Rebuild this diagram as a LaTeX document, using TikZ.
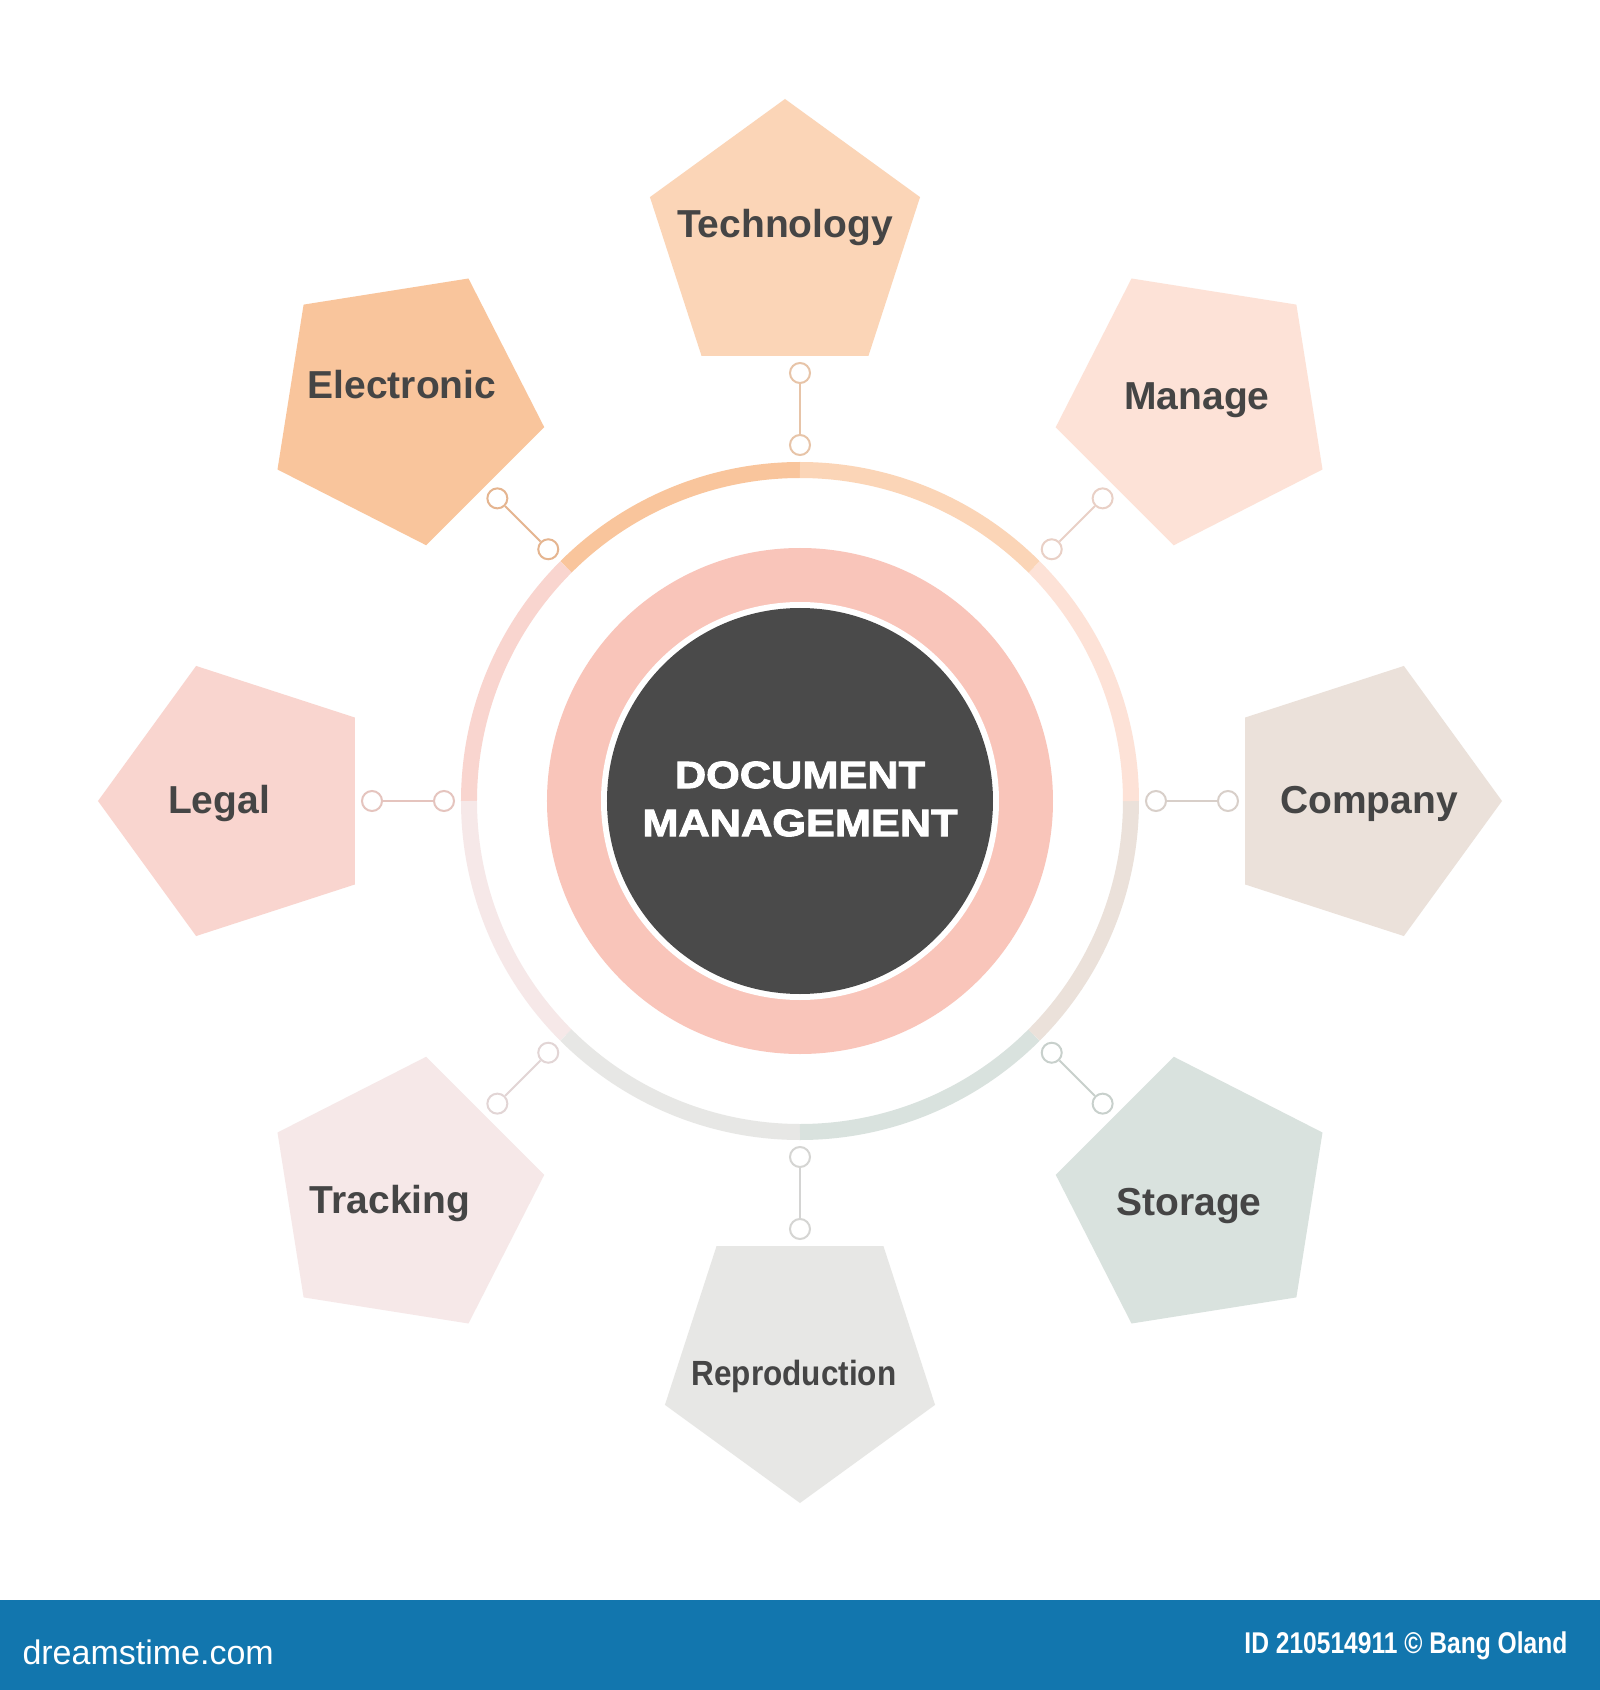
\documentclass[tikz,border=0pt]{standalone}
\usepackage{fontspec}
\setmainfont{Liberation Sans}
\newfontfamily\widefont{Liberation Sans}[FakeStretch=1.14, FakeBold=2.5]
\newfontfamily\narrowfont{Liberation Sans}[FakeStretch=0.82]
\newfontfamily\reprfont{Liberation Sans}[FakeStretch=0.9]
\usetikzlibrary{shapes.geometric}

\definecolor{techcol}{HTML}{FBD5B7}
\definecolor{eleccol}{HTML}{F9C59C}
\definecolor{manacol}{HTML}{FDE2D7}
\definecolor{compcol}{HTML}{EBE1DA}
\definecolor{storcol}{HTML}{D9E2DE}
\definecolor{reprcol}{HTML}{E7E7E5}
\definecolor{traccol}{HTML}{F6E8E8}
\definecolor{legacol}{HTML}{F9D5CF}
\definecolor{ringpink}{HTML}{F9C5BA}
\definecolor{hubgray}{HTML}{4A4A4A}
\definecolor{wordgray}{HTML}{454545}
\definecolor{barblue}{HTML}{1276AE}

\tikzset{
  penta/.style={regular polygon, regular polygon sides=5, minimum size=284pt, inner sep=0pt},
  word/.style={anchor=base, text=wordgray, font=\bfseries\fontsize{39}{44}\selectfont},
  dot/.style={circle, line width=2pt, minimum size=20pt, inner sep=0pt, fill=white},
}

\begin{document}
\begin{tikzpicture}[x=1pt, y=1pt]

\fill[white] (-800,-889) rectangle (800,801);
\useasboundingbox (-800,-889) rectangle (800,801);

% outer ring, one arc per item
\foreach \a/\c in {90/eleccol, 135/legacol, 180/traccol, 225/reprcol, 270/storcol, 315/compcol, 0/manacol, 45/techcol}
	\draw[line width=16pt, \c] (\a:331) arc[start angle=\a, end angle=\a+45, radius=331];

% hub
\fill[ringpink] (0,0) circle[radius=253];
\fill[white] (0,0) circle[radius=199];
\node[circle, fill=hubgray, minimum size=386pt, inner sep=0pt] (hub) at (0,0) {};
\node[align=center, text=white, font=\widefont\bfseries\fontsize{38}{48}\selectfont] (title) at (0,2) {DOCUMENT\\MANAGEMENT};

% pentagons
\node[penta, fill=techcol, shape border rotate=0] (tech) at (-15,560) {};
\node[penta, fill=eleccol, shape border rotate=45] (elec) at (135:560) {};
\node[penta, fill=manacol, shape border rotate=-45] (mana) at (45:560) {};
\node[penta, fill=compcol, shape border rotate=-90] (comp) at (0:560) {};
\node[penta, fill=storcol, shape border rotate=-135] (stor) at (-45:560) {};
\node[penta, fill=reprcol, shape border rotate=180] (repr) at (-90:560) {};
\node[penta, fill=traccol, shape border rotate=135] (trac) at (-135:560) {};
\node[penta, fill=legacol, shape border rotate=90] (lega) at (180:560) {};

\node[word] (tech-t) at (-15,563) {Technology};
\node[word] (elec-t) at (-398,402) {Electronic};
\node[word] (mana-t) at (397,391) {Manage};
\node[word] (comp-t) at (569,-12) {Company};
\node[word] (lega-t) at (-581,-12) {Legal};
\node[word] (trac-t) at (-410,-412) {Tracking};
\node[word] (stor-t) at (389,-414) {Storage};
\node[word, font=\reprfont\bfseries\fontsize{35}{40}\selectfont] (repr-t) at (-6,-584) {Reproduction};

% connectors
\foreach \n/\a in {tech/90, elec/135, mana/45, comp/0, stor/-45, repr/-90, trac/-135, lega/180} {
	\node[dot, draw=\n col!92!black] (\n-in) at (\a:356) {};
	\node[dot, draw=\n col!92!black] (\n-out) at (\a:428) {};
	\draw[line width=2pt, \n col!92!black] (\n-in) -- (\n-out);
}

% stock bar
\fill[barblue] (-800,-889) rectangle (800,-799);
\node[anchor=base west, text=white, font=\fontsize{34}{40}\selectfont] (site) at (-781,-863) {dreamstime.com};
\node[anchor=east, text=white, font=\narrowfont\bfseries\fontsize{30}{36}\selectfont] (credit) at (771,-845) {ID 210514911 © Bang Oland};

\end{tikzpicture}
\end{document}
